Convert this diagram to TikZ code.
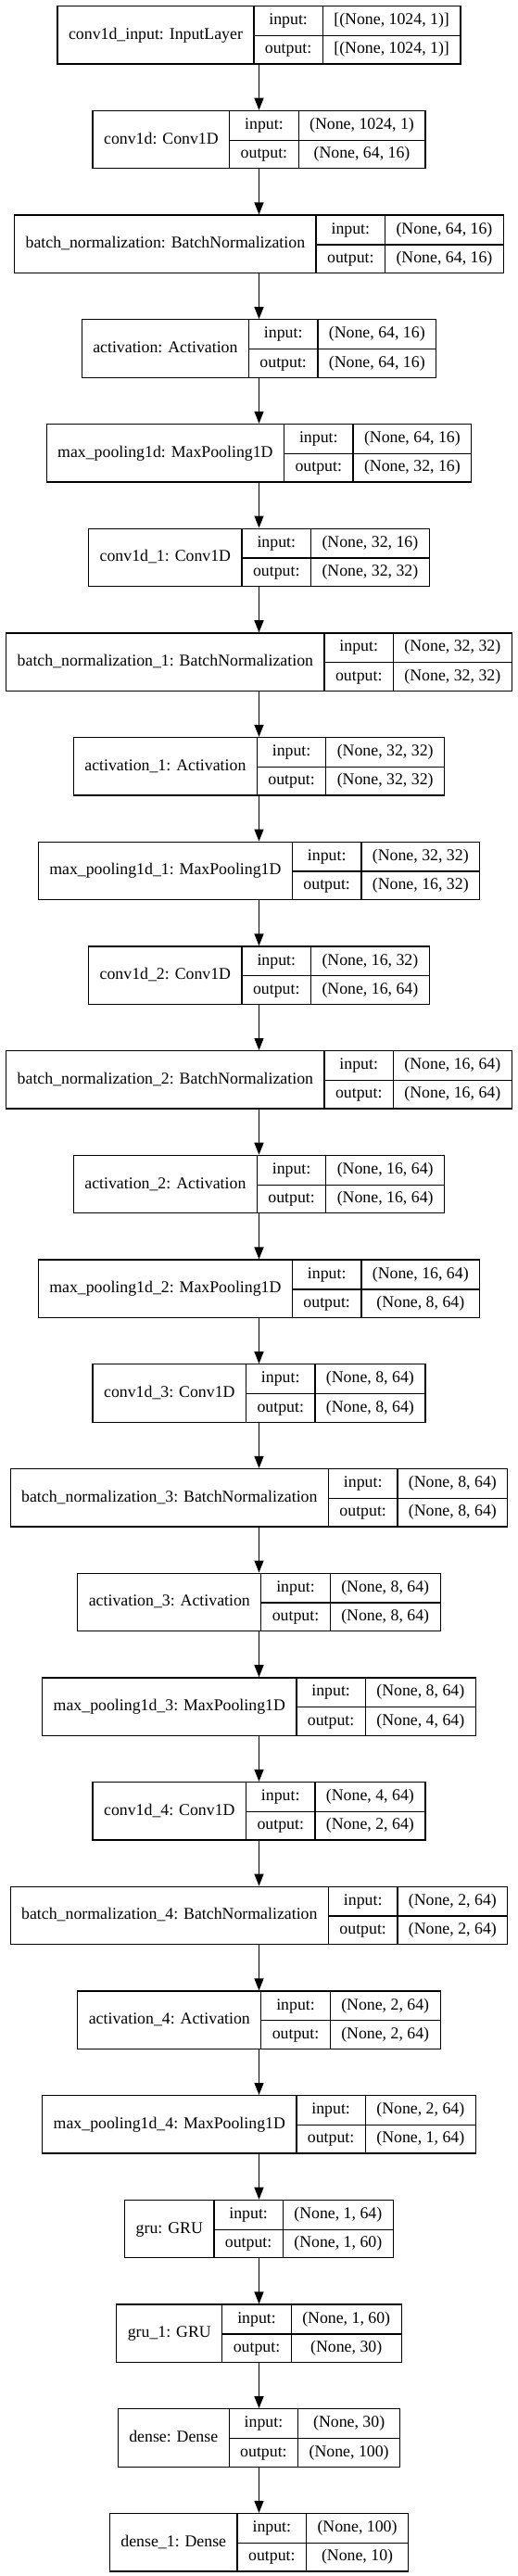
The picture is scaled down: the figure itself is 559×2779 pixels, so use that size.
\documentclass[tikz,border=0pt]{standalone}
\usepackage{fontspec}
\setmainfont{Liberation Serif}
\usetikzlibrary{positioning}
\usetikzlibrary{arrows.meta}
\setlength{\arrayrulewidth}{1.3pt}
\setlength{\tabcolsep}{12pt}
\newcommand{\lfont}{\fontsize{17.8}{21}\selectfont}
\newcommand{\cs}{\rule[-11.1pt]{0pt}{31.2pt}}
\newcommand{\layerrow}[3]{\begin{tabular}{c|c|c}
    \raisebox{-15.6pt}[0pt][0pt]{#1} & \cs input: & \cs #2 \\ \cline{2-3}
    & \cs output: & \cs #3
  \end{tabular}}
\tikzset{
  layerbox/.style={draw, line width=1.3pt, inner sep=0pt, font=\lfont},
  conn/.style={line width=1.3pt, -{Triangle[length=13pt,width=10pt]}}
}

\begin{document}
\begin{tikzpicture}[node distance=49pt]
    \useasboundingbox (0,0) rectangle (559pt,-2779pt);
    % input and first block
    \node[layerbox, anchor=north] (l0) at (279.5pt,-6pt) {\layerrow{conv1d\_input: InputLayer}{[(None, 1024, 1)]}{[(None, 1024, 1)]}};
    \node[layerbox, below=of l0] (l1) {\layerrow{conv1d: Conv1D}{(None, 1024, 1)}{(None, 64, 16)}};
    \node[layerbox, below=of l1] (l2) {\layerrow{batch\_normalization: BatchNormalization}{(None, 64, 16)}{(None, 64, 16)}};
    \node[layerbox, below=of l2] (l3) {\layerrow{activation: Activation}{(None, 64, 16)}{(None, 64, 16)}};
    \node[layerbox, below=of l3] (l4) {\layerrow{max\_pooling1d: MaxPooling1D}{(None, 64, 16)}{(None, 32, 16)}};
    % block 1
    \node[layerbox, below=of l4] (l5) {\layerrow{conv1d\_1: Conv1D}{(None, 32, 16)}{(None, 32, 32)}};
    \node[layerbox, below=of l5] (l6) {\layerrow{batch\_normalization\_1: BatchNormalization}{(None, 32, 32)}{(None, 32, 32)}};
    \node[layerbox, below=of l6] (l7) {\layerrow{activation\_1: Activation}{(None, 32, 32)}{(None, 32, 32)}};
    \node[layerbox, below=of l7] (l8) {\layerrow{max\_pooling1d\_1: MaxPooling1D}{(None, 32, 32)}{(None, 16, 32)}};
    % block 2
    \node[layerbox, below=of l8] (l9) {\layerrow{conv1d\_2: Conv1D}{(None, 16, 32)}{(None, 16, 64)}};
    \node[layerbox, below=of l9] (l10) {\layerrow{batch\_normalization\_2: BatchNormalization}{(None, 16, 64)}{(None, 16, 64)}};
    \node[layerbox, below=of l10] (l11) {\layerrow{activation\_2: Activation}{(None, 16, 64)}{(None, 16, 64)}};
    \node[layerbox, below=of l11] (l12) {\layerrow{max\_pooling1d\_2: MaxPooling1D}{(None, 16, 64)}{(None, 8, 64)}};
    % block 3
    \node[layerbox, below=of l12] (l13) {\layerrow{conv1d\_3: Conv1D}{(None, 8, 64)}{(None, 8, 64)}};
    \node[layerbox, below=of l13] (l14) {\layerrow{batch\_normalization\_3: BatchNormalization}{(None, 8, 64)}{(None, 8, 64)}};
    \node[layerbox, below=of l14] (l15) {\layerrow{activation\_3: Activation}{(None, 8, 64)}{(None, 8, 64)}};
    \node[layerbox, below=of l15] (l16) {\layerrow{max\_pooling1d\_3: MaxPooling1D}{(None, 8, 64)}{(None, 4, 64)}};
    % block 4
    \node[layerbox, below=of l16] (l17) {\layerrow{conv1d\_4: Conv1D}{(None, 4, 64)}{(None, 2, 64)}};
    \node[layerbox, below=of l17] (l18) {\layerrow{batch\_normalization\_4: BatchNormalization}{(None, 2, 64)}{(None, 2, 64)}};
    \node[layerbox, below=of l18] (l19) {\layerrow{activation\_4: Activation}{(None, 2, 64)}{(None, 2, 64)}};
    \node[layerbox, below=of l19] (l20) {\layerrow{max\_pooling1d\_4: MaxPooling1D}{(None, 2, 64)}{(None, 1, 64)}};
    % recurrent and dense head
    \node[layerbox, below=of l20] (l21) {\layerrow{gru: GRU}{(None, 1, 64)}{(None, 1, 60)}};
    \node[layerbox, below=of l21] (l22) {\layerrow{gru\_1: GRU}{(None, 1, 60)}{(None, 30)}};
    \node[layerbox, below=of l22] (l23) {\layerrow{dense: Dense}{(None, 30)}{(None, 100)}};
    \node[layerbox, below=of l23] (l24) {\layerrow{dense\_1: Dense}{(None, 100)}{(None, 10)}};
    % arrows
    \foreach \i in {1,...,24} {
        \pgfmathtruncatemacro{\p}{\i-1}
        \draw[conn] (l\p) -- (l\i);
    }
\end{tikzpicture}
\end{document}
